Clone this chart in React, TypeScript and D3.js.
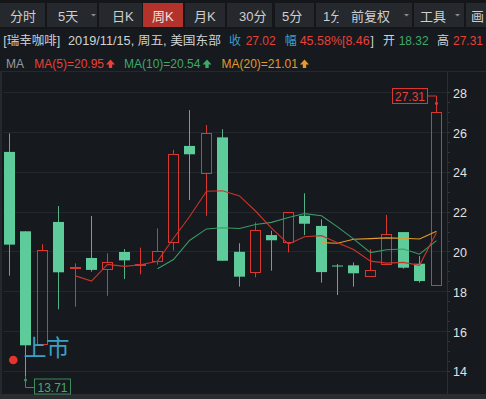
import React from "react";
import * as d3 from "d3";

const weeks = ["2019/05/17","2019/05/24","2019/05/31","2019/06/07","2019/06/14","2019/06/21","2019/06/28","2019/07/05","2019/07/12","2019/07/19","2019/07/26","2019/08/02","2019/08/09","2019/08/16","2019/08/23","2019/08/30","2019/09/06","2019/09/13","2019/09/20","2019/09/27","2019/10/04","2019/10/11","2019/10/18","2019/10/25","2019/11/01","2019/11/08","2019/11/15"];
const opens  = [25.00,21.01,15.33,21.48,19.15,19.67,19.12,19.97,19.30,19.50,20.46,25.30,23.95,25.73,19.98,18.95,20.82,20.49,21.79,21.28,19.29,19.30,18.75,19.35,20.97,19.38,18.32];
const highs  = [25.93,21.01,20.36,22.28,19.40,21.78,19.90,20.12,20.19,21.16,25.10,27.10,26.35,26.14,20.41,21.46,21.04,21.96,22.92,21.61,19.37,19.45,20.11,21.83,20.97,19.77,27.31];
const lows   = [18.78,13.71,15.26,17.09,17.22,18.98,17.77,18.61,18.85,19.33,20.04,22.58,21.79,19.53,18.23,18.70,19.03,19.95,20.82,18.43,17.81,18.23,18.75,19.35,19.13,18.43,18.32];
const closes = [20.34,15.28,20.07,18.95,19.20,19.07,19.47,19.55,19.38,20.02,24.89,24.88,25.93,19.53,18.73,21.08,20.56,21.96,21.39,18.96,19.26,18.90,19.05,20.86,19.18,18.51,27.02];
const ma5  = [null,null,null,null,18.77,18.51,19.35,19.25,19.33,19.50,20.66,21.74,23.02,23.05,22.79,22.03,21.17,20.37,20.74,20.79,20.43,20.09,19.51,19.41,19.45,19.30,20.95];
const ma10 = [null,null,null,null,null,null,null,null,null,19.13,19.59,20.55,21.13,21.19,21.15,21.35,21.46,21.70,21.90,21.79,21.23,20.63,19.94,20.08,20.12,19.86,20.54];
const ma20 = [null,null,null,null,null,null,null,null,null,null,null,null,null,null,null,null,null,null,null,20.44,20.41,20.61,20.64,20.68,20.66,20.62,21.01];
const yTicks = [14,16,18,20,22,24,26,28];
const tabs = ["分时","5天","日K","周K","月K","30分","5分","1分","前复权","工具","画"];

const C = {
  bg: "#16191d",
  grid: "#24272b",
  green: "#5dcc9a",
  red: "#d9372f",
  ma5: "#c9352c",
  ma10: "#3c9966",
  ma20: "#e49a2c",
  cyan: "#3a9fc6",
  txt: "#d2d2d2",
  infoRed: "#e8413a",
  infoGreen: "#3fa96a",
};
const FONT = "'Liberation Sans', Arial, 'Noto Sans CJK SC', sans-serif";

function Arrow({ x, y, color }: { x: number; y: number; color: string }) {
  return <path d={`M${x + 4.5},${y} L${x},${y + 5} L${x + 2.8},${y + 5} L${x + 2.8},${y + 8.5} L${x + 6.2},${y + 8.5} L${x + 6.2},${y + 5} L${x + 9},${y + 5} Z`} fill={color} />;
}

export default function App() {
  const W = 486, H = 399;
  const y = d3.scaleLinear().domain([14, 28]).range([370.8, 92.2]);
  const x = d3.scaleLinear().domain([0, weeks.length - 1]).range([9.5, 436]);

  const mkLine = (arr: (number | null)[]) =>
    d3.line<number | null>()
      .defined((d) => d !== null)
      .x((_, i) => Math.round(x(i) - 5.5) + 5.5)
      .y((d) => y(d as number))(arr) || "";

  const tabRects = [
    [0, 45], [47, 97], [99, 142], [143, 183], [185, 225], [227, 272], [275, 314], [316, 344], [344, 412], [414, 464], [466, 486],
  ];
  const tabTextX = [10, 58, 112, 152, 194, 239, 282, 323, 351, 420, 471];

  const minor = d3.range(14, 28.01, 0.5);

  return (
    <svg width={W} height={H} style={{ position: "absolute", left: 0, top: 0, fontFamily: FONT }}>
      <defs>
        <clipPath id="clip1m"><rect x={316} y={0} width={22.5} height={30} /></clipPath>
      </defs>
      <rect x={0} y={0} width={W} height={H} fill={C.bg} />
      {/* toolbar */}
      <rect x={0} y={0} width={W} height={29} fill="#141619" />
      {tabRects.map(([a, b], i) => (
        <rect key={i} x={a} y={3} width={b - a} height={24} fill={i === 3 ? "#b3322b" : "#25282c"} />
      ))}
      {tabs.map((t, i) => (
        <text key={t} x={tabTextX[i]} y={21} fontSize={13} fill={i === 3 ? "#f0e0e0" : "#cfcfcf"} clipPath={i === 7 ? "url(#clip1m)" : undefined}>{t}</text>
      ))}
      {[[91, 14], [404, 14], [455, 14]].map(([a, b], i) => (
        <path key={i} d={`M${a},${b} L${a + 5},${b} L${a + 2.5},${b + 2.5} Z`} fill="#8a8a8a" />
      ))}

      {/* info row */}
      <g fontSize={12} fill={C.txt}>
        <text x={3.3} y={45} textLength={57} lengthAdjust="spacingAndGlyphs">[瑞幸咖啡]</text>
        <text x={68} y={45} textLength={153} lengthAdjust="spacingAndGlyphs">2019/11/15, 周五, 美国东部</text>
        <text x={229} y={45} fill={C.cyan}>收</text>
        <text x={245.7} y={45} fill={C.infoRed}>27.02</text>
        <text x={284.7} y={45} fill={C.cyan}>幅</text>
        <text x={299.7} y={45} fill={C.infoRed} textLength={70} lengthAdjust="spacingAndGlyphs">45.58%[8.46</text>
        <text x={370.5} y={45}>]</text>
        <text x={383} y={45}>开</text>
        <text x={398.7} y={45} fill={C.infoGreen}>18.32</text>
        <text x={437} y={45}>高</text>
        <text x={453} y={45} fill={C.infoRed}>27.31</text>
      </g>

      {/* MA row */}
      <g fontSize={12}>
        <text x={6} y={68} fill="#9a9a9a">MA</text>
        <text x={34.3} y={68} fill={C.infoRed}>MA(5)=20.95</text>
        <Arrow x={106} y={59.5} color={C.infoRed} />
        <text x={124} y={68} fill={C.infoGreen}>MA(10)=20.54</text>
        <Arrow x={202.5} y={59.5} color={C.infoGreen} />
        <text x={221.5} y={68} fill={C.ma20}>MA(20)=21.01</text>
        <Arrow x={300} y={59.5} color={C.ma20} />
      </g>
      <line x1={0} x2={W} y1={71.5} y2={71.5} stroke="#25282c" />

      {/* grid */}
      {yTicks.map((t) => (
        <line key={t} x1={3} x2={447} y1={Math.round(y(t)) + 0.5} y2={Math.round(y(t)) + 0.5} stroke={C.grid} />
      ))}
      <rect x={0} y={72} width={2} height={322} fill="#25282c" />
      <line x1={447.5} x2={447.5} y1={72} y2={394} stroke="#2b2e32" />
      {minor.map((m) => (
        <line key={m} x1={448} x2={450} y1={Math.round(y(m)) + 0.5} y2={Math.round(y(m)) + 0.5} stroke="#34373b" />
      ))}
      {yTicks.map((t) => (
        <text key={t} x={453} y={y(t) + 1.5} fontSize={12.5} fill="#e2e2e2" dominantBaseline="central">{t}</text>
      ))}
      <rect x={0} y={394} width={W} height={5} fill="#2a2c30" />

      {/* candles */}
      {weeks.map((w, i) => {
        const o = opens[i], c = closes[i], h = highs[i], l = lows[i];
        const left = Math.round(x(i) - 5.5);
        const cx = left + 5.5;
        const up = c >= o;
        if (up) {
          const top = Math.round(y(c)), bot = Math.round(y(o));
          const hh = Math.max(bot - top, 1);
          return (
            <g key={w}>
              <line x1={cx} x2={cx} y1={y(h)} y2={top} stroke={C.red} />
              <line x1={cx} x2={cx} y1={top + hh} y2={y(l)} stroke={C.red} />
              <rect x={left + 0.5} y={top + 0.5} width={10} height={hh} fill="none" stroke={C.red} />
            </g>
          );
        }
        const top = y(o), bot = y(c);
        return (
          <g key={w}>
            <line x1={cx} x2={cx} y1={y(h)} y2={y(l)} stroke={C.green} strokeOpacity={0.85} />
            <rect x={left} y={top} width={11} height={Math.max(bot - top, 1)} fill={C.green} />
          </g>
        );
      })}

      {/* MA lines */}
      <path d={mkLine(ma20)} fill="none" stroke={C.ma20} strokeWidth={1.1} />
      <path d={mkLine(ma10)} fill="none" stroke={C.ma10} strokeWidth={1.1} />
      <path d={mkLine(ma5)} fill="none" stroke={C.ma5} strokeWidth={1.1} />

      {/* IPO marker */}
      <circle cx={13.3} cy={360} r={4.3} fill="#e8332c" />
      <text x={23.5} y={356} fontSize={23} fill={C.cyan} fontFamily="'Noto Sans CJK SC', sans-serif">上市</text>

      {/* low label */}
      {(() => {
        const i = lows.indexOf(d3.min(lows) as number);
        const cx = Math.round(x(i) - 5.5) + 5.5;
        const ly = y(lows[i]);
        return (
          <g>
            <path d={`M${cx},${ly} L${cx},${387.5} L${34.5},${387.5}`} fill="none" stroke="#3d8c5e" />
            <circle cx={cx} cy={ly + 3.5} r={1.6} fill="#3d8c5e" />
            <rect x={34.5} y={379} width={36} height={15} fill={C.bg} stroke="#3d8c5e" />
            <text x={52.5} y={391.5} fontSize={12} fill="#4aa872" textAnchor="middle">{lows[i].toFixed(2)}</text>
          </g>
        );
      })()}
      {/* high label */}
      {(() => {
        const i = highs.indexOf(d3.max(highs) as number);
        const cx = Math.round(x(i) - 5.5) + 5.5;
        const hy = y(highs[i]);
        return (
          <g>
            <path d={`M${cx},${hy} L${cx},${96} L${427.5},${96}`} fill="none" stroke={C.red} />
            <circle cx={cx} cy={hy - 2.5} r={1.6} fill={C.red} />
            <rect x={392.5} y={88.5} width={35} height={15} fill={C.bg} stroke={C.red} />
            <text x={410} y={100.5} fontSize={12} fill={C.infoRed} textAnchor="middle">{highs[i].toFixed(2)}</text>
          </g>
        );
      })()}
    </svg>
  );
}
